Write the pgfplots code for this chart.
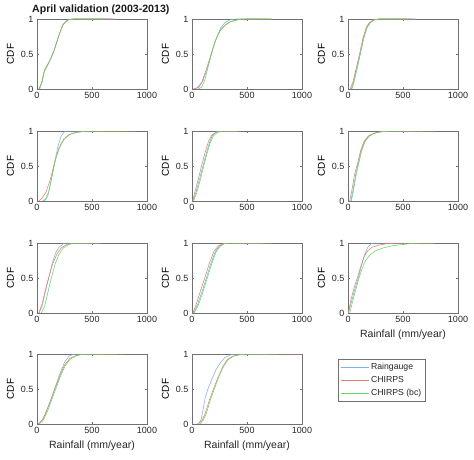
\documentclass[border=0pt]{standalone}
\usepackage{fontspec}
\setmainfont{Liberation Sans}
\usepackage{pgfplots}
\pgfplotsset{compat=1.18}

\definecolor{rgcol}{HTML}{7FB2E0}
\definecolor{chcol}{HTML}{F07878}
\definecolor{bccol}{HTML}{5EDC5E}
\definecolor{framecol}{HTML}{707070}

\pgfplotsset{
  panel/.style={
    width=110pt, height=70pt, scale only axis,
    anchor=north west,
    xmin=0, xmax=1000, ymin=0, ymax=1,
    xtick={0,500,1000}, ytick={0,0.5,1},
    xticklabels={0,500,1000}, yticklabels={0,0.5,1},
    tick align=inside, major tick length=2pt,
    axis line style={framecol, line width=0.6pt},
    every tick/.style={framecol, line width=0.5pt},
    tick label style={font=\fontsize{9}{10}\selectfont, text=black!85},
    /pgf/number format/assume math mode=true,
    label style={font=\fontsize{10.5}{12}\selectfont, text=black!85},
    ylabel={CDF},
    every axis y label/.style={at={(ticklabel cs:0.5)}, rotate=90, anchor=south},
    every axis plot/.append style={line width=0.55pt, no marks},
  },
}

\begin{document}
\begin{tikzpicture}

% row 1
\begin{axis}[panel, at={(37pt,440pt)}]
\addplot[rgcol] coordinates {(15,0)(40,0.08)(60,0.22)(80,0.3)(110,0.38)(150,0.52)(190,0.72)(230,0.9)(270,0.98)(320,1)(720,1)};
\addplot[chcol] coordinates {(20,0)(45,0.1)(65,0.25)(90,0.32)(120,0.42)(155,0.55)(195,0.75)(235,0.92)(280,0.99)(330,1)(680,1)};
\addplot[bccol] coordinates {(25,0)(50,0.12)(70,0.28)(100,0.36)(130,0.45)(160,0.57)(200,0.77)(240,0.93)(290,0.99)(340,1)(640,1)};
\end{axis}
\node[anchor=base west, inner sep=0pt, font=\fontsize{10.6}{12}\selectfont\bfseries, text=black!90]
  at (32pt,446pt) {April validation (2003-2013)};

\begin{axis}[panel, at={(192pt,440pt)}]
\addplot[rgcol] coordinates {(20,0)(60,0.02)(100,0.12)(140,0.3)(180,0.52)(220,0.72)(260,0.87)(300,0.95)(350,0.99)(400,1)(600,1)};
\addplot[chcol] coordinates {(10,0)(50,0.02)(90,0.1)(130,0.28)(170,0.48)(210,0.68)(250,0.82)(300,0.91)(350,0.96)(420,0.99)(500,1)(720,1)};
\addplot[bccol] coordinates {(60,0)(90,0.03)(120,0.15)(160,0.4)(190,0.58)(230,0.76)(270,0.87)(320,0.94)(380,0.98)(450,1)(725,1)};
\end{axis}

\begin{axis}[panel, at={(348pt,440pt)}]
\addplot[rgcol] coordinates {(30,0)(50,0.1)(80,0.3)(110,0.5)(140,0.72)(170,0.88)(200,0.95)(240,0.99)(280,1)(620,1)};
\addplot[chcol] coordinates {(20,0)(45,0.1)(75,0.3)(105,0.5)(135,0.72)(165,0.88)(195,0.95)(235,0.99)(280,1)(590,1)};
\addplot[bccol] coordinates {(35,0)(55,0.1)(85,0.3)(115,0.52)(145,0.73)(175,0.88)(205,0.95)(245,0.99)(290,1)(540,1)};
\end{axis}

% row 2
\begin{axis}[panel, at={(37pt,328pt)}]
\addplot[rgcol] coordinates {(60,0)(80,0.02)(100,0.08)(130,0.3)(160,0.55)(190,0.78)(220,0.93)(250,0.99)(270,1)(600,1)};
\addplot[chcol] coordinates {(15,0)(40,0.03)(80,0.12)(120,0.3)(160,0.55)(200,0.76)(240,0.88)(290,0.95)(350,0.98)(450,1)(900,1)};
\addplot[bccol] coordinates {(50,0)(80,0.03)(110,0.15)(140,0.38)(170,0.6)(210,0.78)(250,0.89)(300,0.95)(360,0.98)(460,1)(820,1)};
\end{axis}

\begin{axis}[panel, at={(192pt,328pt)}]
\addplot[rgcol] coordinates {(10,0)(40,0.15)(70,0.32)(100,0.5)(130,0.68)(160,0.84)(190,0.95)(220,0.99)(260,1)(400,1)};
\addplot[chcol] coordinates {(5,0)(30,0.15)(60,0.33)(90,0.52)(120,0.7)(150,0.85)(180,0.94)(220,0.98)(280,1)(420,1)};
\addplot[bccol] coordinates {(15,0)(45,0.13)(75,0.3)(105,0.49)(135,0.67)(165,0.83)(195,0.93)(230,0.98)(290,1)(440,1)};
\end{axis}

\begin{axis}[panel, at={(348pt,328pt)}]
\addplot[rgcol] coordinates {(25,0)(45,0.15)(70,0.38)(95,0.55)(120,0.72)(150,0.85)(190,0.93)(240,0.97)(300,0.99)(380,1)(600,1)};
\addplot[chcol] coordinates {(15,0)(35,0.15)(60,0.38)(90,0.56)(115,0.72)(145,0.85)(185,0.93)(240,0.97)(300,0.99)(400,1)(790,1)};
\addplot[bccol] coordinates {(30,0)(50,0.15)(75,0.38)(100,0.55)(125,0.72)(155,0.85)(195,0.93)(250,0.97)(310,0.99)(400,1)(680,1)};
\end{axis}

% row 3
\begin{axis}[panel, at={(37pt,216pt)}]
\addplot[rgcol] coordinates {(20,0)(50,0.12)(80,0.33)(110,0.52)(140,0.72)(170,0.86)(200,0.94)(240,0.99)(280,1)(500,1)};
\addplot[chcol] coordinates {(15,0)(45,0.12)(75,0.32)(105,0.5)(140,0.69)(180,0.84)(220,0.93)(270,0.98)(330,1)(580,1)};
\addplot[bccol] coordinates {(40,0)(70,0.1)(100,0.3)(130,0.5)(165,0.7)(200,0.84)(240,0.93)(290,0.98)(350,1)(560,1)};
\end{axis}

\begin{axis}[panel, at={(192pt,216pt)}]
\addplot[rgcol] coordinates {(15,0)(50,0.12)(90,0.3)(130,0.5)(170,0.7)(210,0.87)(250,0.96)(290,0.99)(330,1)(620,1)};
\addplot[chcol] coordinates {(8,0)(40,0.13)(80,0.33)(120,0.52)(160,0.72)(200,0.88)(240,0.96)(280,0.99)(330,1)(730,1)};
\addplot[bccol] coordinates {(20,0)(55,0.1)(95,0.28)(135,0.48)(175,0.68)(215,0.86)(255,0.95)(295,0.99)(340,1)(650,1)};
\end{axis}

\begin{axis}[panel, at={(348pt,216pt)}, xlabel={Rainfall (mm/year)}]
\addplot[rgcol] coordinates {(5,0)(30,0.15)(60,0.33)(90,0.48)(120,0.66)(150,0.83)(180,0.94)(210,0.99)(240,1)(650,1)};
\addplot[chcol] coordinates {(3,0)(25,0.18)(55,0.36)(85,0.5)(115,0.66)(145,0.8)(180,0.89)(220,0.94)(280,0.97)(350,0.99)(450,1)(780,1)};
\addplot[bccol] coordinates {(15,0)(40,0.15)(70,0.33)(100,0.5)(130,0.64)(160,0.75)(200,0.83)(250,0.89)(320,0.93)(400,0.96)(500,0.98)(620,1)(780,1)};
\end{axis}

% row 4
\begin{axis}[panel, at={(37pt,105pt)}, xlabel={Rainfall (mm/year)}]
\addplot[rgcol] coordinates {(15,0)(50,0.06)(90,0.2)(130,0.37)(170,0.55)(210,0.73)(250,0.88)(290,0.97)(330,0.995)(370,1)(600,1)};
\addplot[chcol] coordinates {(12,0)(50,0.06)(90,0.2)(130,0.36)(170,0.53)(210,0.7)(250,0.84)(300,0.94)(360,0.98)(430,1)(790,1)};
\addplot[bccol] coordinates {(20,0)(55,0.05)(95,0.18)(135,0.35)(175,0.52)(215,0.69)(255,0.83)(305,0.93)(365,0.98)(440,1)(730,1)};
\end{axis}

\begin{axis}[panel, at={(192pt,105pt)}, xlabel={Rainfall (mm/year)},
  legend style={at={(axis description cs:1.327,0.929)}, anchor=north west,
    draw=framecol, line width=0.6pt, font=\fontsize{8.7}{10}\selectfont,
    text=black!85, inner xsep=2pt, inner ysep=2pt, row sep=1.5pt},
  legend cell align=left,
  legend image code/.code={\draw[#1, line width=0.8pt] (0pt,0pt) -- (28pt,0pt);}]
\addplot[rgcol] coordinates {(60,0)(80,0.05)(100,0.2)(120,0.38)(150,0.52)(180,0.64)(220,0.78)(260,0.88)(300,0.95)(350,0.99)(420,1)(700,1)};
\addlegendentry{Raingauge}
\addplot[chcol] coordinates {(50,0)(90,0.05)(120,0.15)(160,0.35)(200,0.52)(240,0.68)(280,0.82)(320,0.92)(370,0.97)(430,0.99)(500,1)(1000,1)};
\addlegendentry{CHIRPS}
\addplot[bccol] coordinates {(70,0)(100,0.05)(130,0.15)(170,0.36)(210,0.53)(250,0.7)(290,0.83)(330,0.92)(380,0.97)(440,0.99)(500,1)(780,1)};
\addlegendentry{CHIRPS (bc)}
\end{axis}

\pgfresetboundingbox
\useasboundingbox (0pt,0pt) rectangle (474pt,459pt);
\end{tikzpicture}
\end{document}
